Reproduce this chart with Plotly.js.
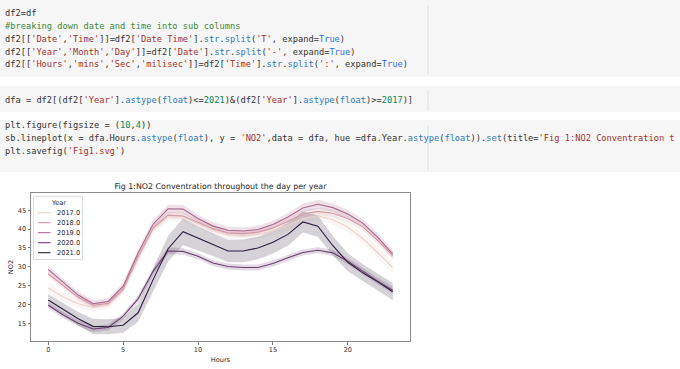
<!DOCTYPE html>
<html>
<head>
<meta charset="utf-8">
<script src="https://cdn.plot.ly/plotly-3.0.1.min.js"></script>
<style>
  html, body { margin: 0; padding: 0; background: #ffffff; }
  #chart { width: 680px; height: 369px; }
</style>
</head>
<body>
<div id="chart"></div>
<script>
// ---------------- data ----------------
const hours = [0, 1, 2, 3, 4, 5, 6, 7, 8, 9, 10, 11, 12, 13, 14, 15, 16, 17, 18, 19, 20, 21, 22, 23];
const years = [2017, 2018, 2019, 2020, 2021];

const no2_2017 = [24.4, 22.0, 20.2, 19.2, 19.8, 23.8, 32.0, 40.0, 43.3, 43.3, 41.5, 39.8, 38.6, 38.2, 38.6, 39.5, 41.0, 42.8, 43.5, 42.5, 40.5, 37.5, 33.8, 29.8];
const no2_2018 = [28.1, 25.0, 21.9, 19.8, 20.3, 24.0, 32.8, 40.3, 43.7, 43.5, 41.7, 40.1, 39.0, 38.8, 39.2, 40.3, 42.0, 44.0, 44.7, 44.2, 42.8, 40.6, 37.0, 33.0];
const no2_2019 = [29.3, 25.8, 22.5, 20.2, 20.8, 24.8, 33.7, 41.3, 45.4, 45.3, 42.8, 40.8, 39.7, 39.5, 39.9, 41.2, 43.2, 45.6, 46.6, 45.7, 44.0, 41.6, 37.8, 33.4];
const no2_2020 = [19.8, 17.2, 15.0, 13.5, 13.9, 16.9, 21.5, 28.8, 34.2, 34.1, 32.8, 31.0, 30.1, 29.8, 29.8, 30.9, 32.4, 33.8, 34.4, 33.7, 31.5, 28.8, 26.2, 23.8];
const no2_2021 = [21.2, 18.7, 16.2, 14.2, 14.1, 14.5, 17.8, 26.6, 34.8, 39.3, 37.5, 35.9, 34.2, 34.2, 35.0, 36.5, 38.6, 41.9, 40.8, 35.6, 31.2, 28.4, 26.0, 23.4];

// half width of the 95% confidence band
const ci_2017 = [1.3, 1.2, 1.1, 1.1, 1.1, 1.2, 1.4, 1.4, 1.3, 1.3, 1.2, 1.2, 1.2, 1.2, 1.2, 1.2, 1.3, 1.3, 1.3, 1.3, 1.3, 1.4, 1.4, 1.5];
const ci_2018 = [0.9, 0.9, 0.8, 0.8, 0.8, 0.9, 1.0, 1.0, 0.9, 0.9, 0.9, 0.9, 0.9, 0.9, 0.9, 0.9, 0.9, 1.0, 1.0, 1.0, 1.0, 1.0, 1.0, 1.0];
const ci_2019 = [1.0, 1.0, 0.9, 0.9, 0.9, 1.0, 1.1, 1.1, 1.1, 1.1, 1.0, 1.0, 1.0, 1.0, 1.0, 1.0, 1.1, 1.1, 1.2, 1.1, 1.1, 1.1, 1.1, 1.1];
const ci_2020 = [0.8, 0.8, 0.8, 0.8, 0.8, 0.8, 0.9, 0.9, 0.9, 0.9, 0.8, 0.8, 0.8, 0.8, 0.8, 0.8, 0.8, 0.8, 0.8, 0.8, 0.8, 0.8, 0.9, 0.9];
const ci_2021 = [1.6, 1.6, 1.8, 2.0, 2.0, 2.0, 2.4, 3.0, 3.4, 3.5, 3.2, 3.0, 3.0, 3.0, 3.0, 3.0, 3.0, 2.8, 2.8, 2.6, 2.4, 2.3, 2.3, 2.3];

const xTicks = [0, 5, 10, 15, 20];
const yTicks = [15, 20, 25, 30, 35, 40, 45];

const chartTitle = 'Fig 1:NO2 Conventration throughout the day per year';
const xLabel = 'Hours';
const yLabel = 'NO2';
const legendTitle = 'Year';

// ---------------- styling ----------------
const yearColors = ['#edd1cb', '#d499a7', '#aa678f', '#6e4071', '#2d1e3e'];
const W = 680, H = 369;
const px = v => v / W;            // pixel -> paper x
const py = v => 1 - v / H;        // pixel -> paper y
const plotL = 31, plotR = 410, plotT = 193, plotB = 341;
const chartFont = 'DejaVu Sans, sans-serif';
const codeFont = 'DejaVu Sans Mono, Liberation Mono, monospace';

function hexA(hex, a) {
  const n = parseInt(hex.slice(1), 16);
  return `rgba(${(n >> 16) & 255},${(n >> 8) & 255},${n & 255},${a})`;
}

const series = [no2_2017, no2_2018, no2_2019, no2_2020, no2_2021];
const cis = [ci_2017, ci_2018, ci_2019, ci_2020, ci_2021];

const traces = [];
let lo = Infinity, hi = -Infinity;
series.forEach((vals, i) => {
  const up = vals.map((v, k) => v + cis[i][k]);
  const dn = vals.map((v, k) => v - cis[i][k]);
  lo = Math.min(lo, ...dn); hi = Math.max(hi, ...up);
  traces.push({
    x: hours.concat(hours.slice().reverse()),
    y: up.concat(dn.slice().reverse()),
    type: 'scatter', mode: 'lines', fill: 'toself',
    fillcolor: hexA(yearColors[i], 0.2),
    line: { width: 0, color: 'rgba(0,0,0,0)' },
    hoverinfo: 'skip', showlegend: false
  });
});
series.forEach((vals, i) => {
  traces.push({
    x: hours, y: vals, type: 'scatter', mode: 'lines',
    name: years[i].toFixed(1),
    line: { color: yearColors[i], width: 1.1 },
    showlegend: false
  });
});
const span = hi - lo;
const yRange = [lo - 0.05 * span, hi + 0.05 * span];
const xRange = [hours[0] - 0.05 * (hours[hours.length - 1] - hours[0]), hours[hours.length - 1] + 0.05 * (hours[hours.length - 1] - hours[0])];

// ---------------- notebook code cells ----------------
const S = t => `<span style="color:#a5312b">${t}</span>`;   // strings
const F = t => `<span style="color:#2b7bb9">${t}</span>`;   // attributes / builtins
const K = t => `<span style="color:#2f6fd6">${t}</span>`;   // keywords
const N = t => `<span style="color:#098658">${t}</span>`;   // numbers
const C = t => `<span style="color:#3c8a3c">${t}</span>`;   // comment

const codeLines = [
  [13.3, 'df2=df'],
  [25.9, C('#breaking down date and time into sub columns')],
  [38.6, `df2[[${S("'Date'")},${S("'Time'")}]]=df2[${S("'Date Time'")}].${F('str')}.${F('split')}(${S("'T'")}, expand=${K('True')})`],
  [51.5, `df2[[${S("'Year'")},${S("'Month'")},${S("'Day'")}]]=df2[${S("'Date'")}].${F('str')}.${F('split')}(${S("'-'")}, expand=${K('True')})`],
  [64.3, `df2[[${S("'Hours'")},${S("'mins'")},${S("'Sec'")},${S("'milisec'")}]]=df2[${S("'Time'")}].${F('str')}.${F('split')}(${S("':'")}, expand=${K('True')})`],
  [100.0, `dfa = df2[(df2[${S("'Year'")}].${F('astype')}(${F('float')})&lt;=${N('2021')})&amp;(df2[${S("'Year'")}].${F('astype')}(${F('float')})&gt;=${N('2017')})]`],
  [125.0, `plt.figure(figsize = (${N('10')},${N('4')}))`],
  [138.3, `sb.lineplot(x = dfa.Hours.${F('astype')}(${F('float')}), y = ${S("'NO2'")},data = dfa, hue =dfa.Year.${F('astype')}(${F('float')})).${F('set')}(title=${S("'Fig 1:NO2 Conventration t")}`],
  [151.0, `plt.savefig(${S("'Fig1.svg'")})`]
];

const annotations = codeLines.map(([y, t]) => ({
  xref: 'paper', yref: 'paper', x: px(3), y: py(y), xanchor: 'left', yanchor: 'middle',
  showarrow: false, text: t, align: 'left',
  font: { family: codeFont, size: 8.7, color: '#333333' }
}));

const shapes = [
  { type: 'rect', xref: 'paper', yref: 'paper', x0: 0, x1: 1, y0: py(0), y1: py(77), fillcolor: '#f6f6f6', line: { width: 0 }, layer: 'below' },
  { type: 'rect', xref: 'paper', yref: 'paper', x0: 0, x1: 1, y0: py(86), y1: py(112), fillcolor: '#f6f6f6', line: { width: 0 }, layer: 'below' },
  { type: 'rect', xref: 'paper', yref: 'paper', x0: 0, x1: 1, y0: py(120), y1: py(172), fillcolor: '#f6f6f6', line: { width: 0 }, layer: 'below' },
  { type: 'line', xref: 'paper', yref: 'paper', x0: px(428), x1: px(428), y0: py(5), y1: py(75), line: { color: '#e0e0e0', width: 1 } },
  { type: 'line', xref: 'paper', yref: 'paper', x0: px(428), x1: px(428), y0: py(90), y1: py(111), line: { color: '#e0e0e0', width: 1 } },
  { type: 'line', xref: 'paper', yref: 'paper', x0: px(428), x1: px(428), y0: py(126), y1: py(171), line: { color: '#e0e0e0', width: 1 } }
];

// ---------------- legend (matplotlib style, compact) ----------------
shapes.push({ type: 'rect', xref: 'paper', yref: 'paper', x0: px(33.5), x1: px(82.5), y0: py(196.5), y1: py(259.5),
  fillcolor: 'rgba(255,255,255,0.8)', line: { color: '#d6d6d6', width: 0.8 } });
annotations.push({ xref: 'paper', yref: 'paper', x: px(58.5), y: py(202.5), xanchor: 'center', yanchor: 'middle',
  showarrow: false, text: legendTitle, font: { family: chartFont, size: 6.6, color: '#262626' } });
years.forEach((yr, i) => {
  const yy = 212.7 + i * 10;
  shapes.push({ type: 'line', xref: 'paper', yref: 'paper', x0: px(38), x1: px(50.5), y0: py(yy), y1: py(yy),
    line: { color: yearColors[i], width: 1.1 } });
  annotations.push({ xref: 'paper', yref: 'paper', x: px(55), y: py(yy), xanchor: 'left', yanchor: 'middle',
    showarrow: false, text: yr.toFixed(1), font: { family: chartFont, size: 6.6, color: '#262626' } });
});

const axisCommon = {
  ticks: 'outside', ticklen: 2.5, tickwidth: 0.8, tickcolor: '#555',
  tickfont: { family: chartFont, size: 6.6, color: '#333' },
  showline: true, mirror: true, linecolor: '#8c8c8c', linewidth: 1,
  showgrid: false, zeroline: false, automargin: false, fixedrange: true
};

const layout = {
  width: W, height: H,
  margin: { l: 0, r: 0, t: 0, b: 0 },
  paper_bgcolor: '#ffffff', plot_bgcolor: '#ffffff',
  showlegend: false,
  title: { text: chartTitle, x: px((plotL + plotR) / 2), xanchor: 'center', y: py(186), yanchor: 'middle',
    font: { family: chartFont, size: 7.9, color: '#262626' } },
  xaxis: Object.assign({}, axisCommon, {
    domain: [px(plotL), px(plotR)], range: xRange, tickvals: xTicks,
    title: { text: xLabel, standoff: 3, font: { family: chartFont, size: 6.6, color: '#262626' } }
  }),
  yaxis: Object.assign({}, axisCommon, {
    domain: [py(plotB), py(plotT)], range: yRange, tickvals: yTicks,
    title: { text: yLabel, standoff: 3, font: { family: chartFont, size: 6.6, color: '#262626' } }
  }),
  shapes: shapes,
  annotations: annotations
};

Plotly.newPlot('chart', traces, layout, { displayModeBar: false, staticPlot: true });
</script>
</body>
</html>
